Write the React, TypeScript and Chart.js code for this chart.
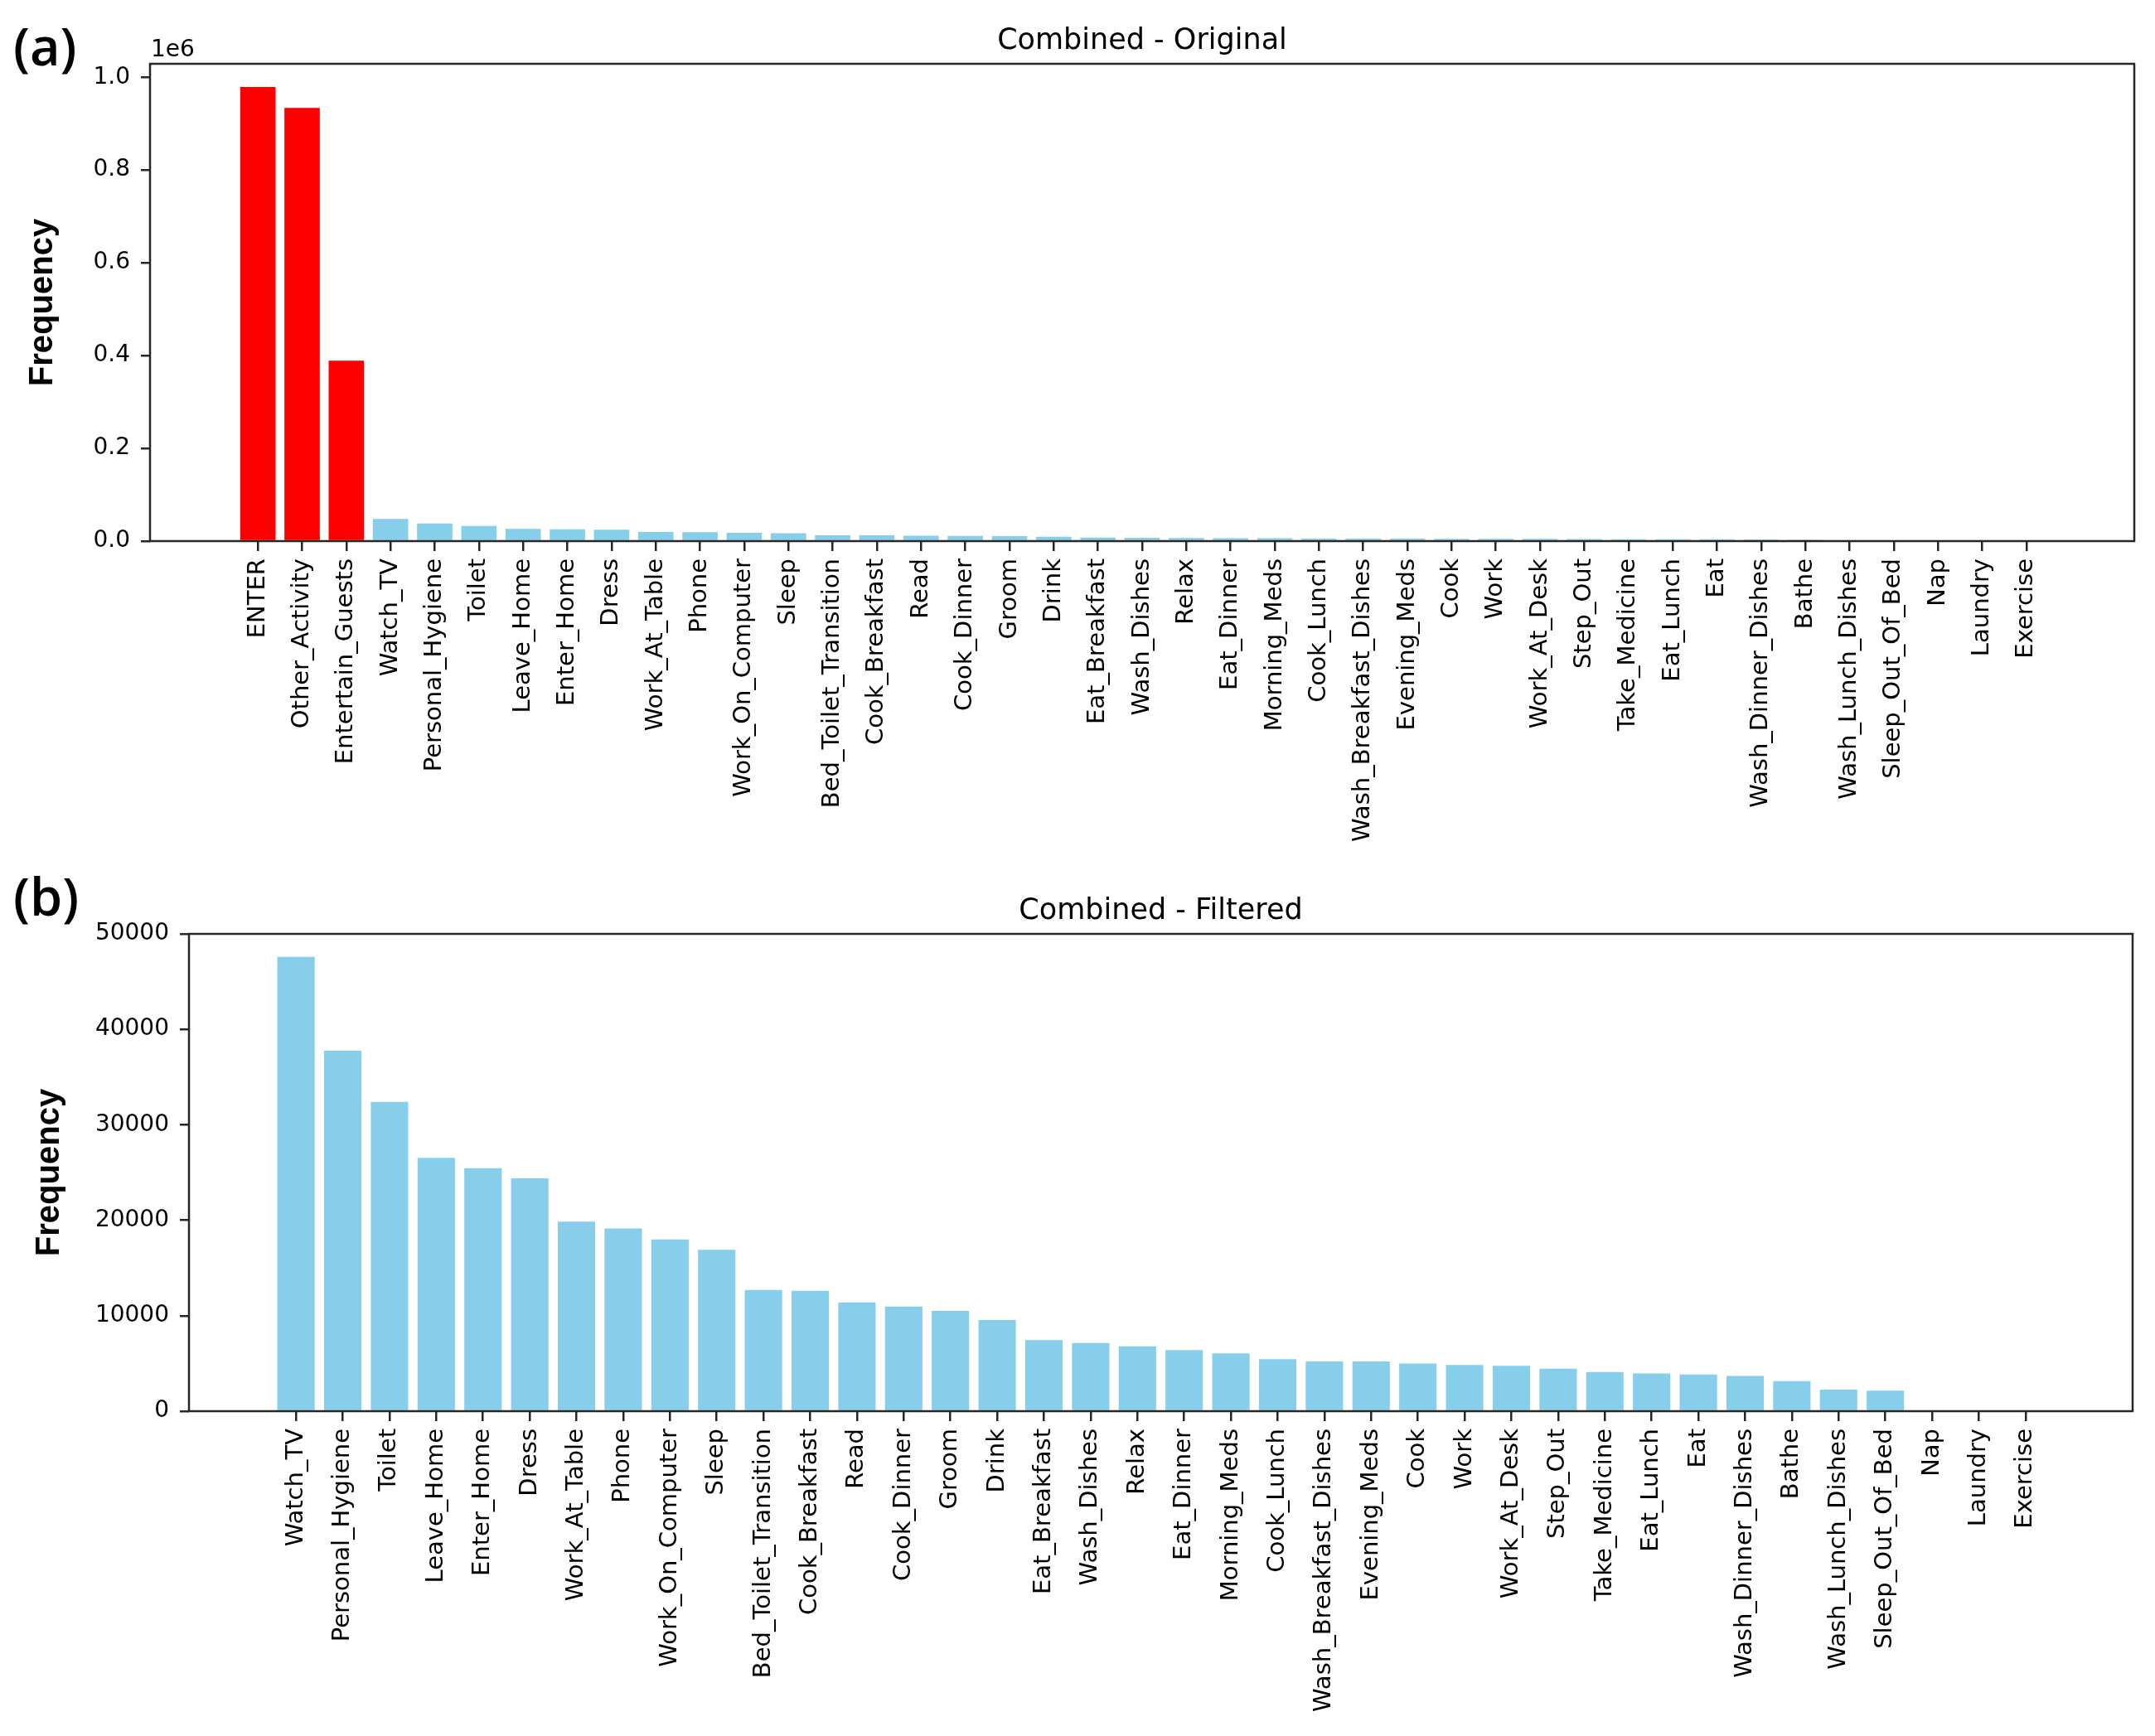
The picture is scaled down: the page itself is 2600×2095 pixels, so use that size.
import React, { useEffect, useRef } from "react";
import { Chart, registerables, ChartConfiguration, Plugin } from "chart.js";

Chart.register(...registerables);
Chart.defaults.font.family = "'DejaVu Sans', sans-serif";
Chart.defaults.color = "#000";

// the three activities removed by the filter
const outlierLabels = ["ENTER", "Other_Activity", "Entertain_Guests"];
const outlierValues = [979000, 934000, 389000];

const activityLabels = [
  "Watch_TV", "Personal_Hygiene", "Toilet", "Leave_Home", "Enter_Home",
  "Dress", "Work_At_Table", "Phone", "Work_On_Computer", "Sleep",
  "Bed_Toilet_Transition", "Cook_Breakfast", "Read", "Cook_Dinner", "Groom",
  "Drink", "Eat_Breakfast", "Wash_Dishes", "Relax", "Eat_Dinner",
  "Morning_Meds", "Cook_Lunch", "Wash_Breakfast_Dishes", "Evening_Meds",
  "Cook", "Work", "Work_At_Desk", "Step_Out", "Take_Medicine", "Eat_Lunch",
  "Eat", "Wash_Dinner_Dishes", "Bathe", "Wash_Lunch_Dishes",
  "Sleep_Out_Of_Bed", "Nap", "Laundry", "Exercise",
];
const activityValues = [
  47600, 37750, 32400, 26550, 25450,
  24400, 19850, 19150, 18000, 16900,
  12700, 12600, 11400, 10950, 10500,
  9550, 7450, 7150, 6800, 6400,
  6050, 5450, 5200, 5200,
  5000, 4850, 4750, 4450, 4100, 3950,
  3850, 3700, 3150, 2250,
  2150, 0, 0, 0,
];

const originalTicks = [0, 200000, 400000, 600000, 800000, 1000000];
const filteredTicks = [0, 10000, 20000, 30000, 40000, 50000];

const RED = "#ff0000";
const BLUE = "#87ceeb";
const FRAME = "#262626";
const WIDTH = 2600;

const originalLabels = outlierLabels.concat(activityLabels);
const originalValues = outlierValues.concat(activityValues);
const originalColors = originalLabels.map((_, i) =>
  i < outlierLabels.length ? RED : BLUE);

type Area = { left: number, right: number, top: number, bottom: number };

type PanelProps = {
  labels: string[],
  values: number[],
  colors: string[],
  title: string,
  letter: string,
  letterY: number,
  offsetText?: string,
  yMax: number,
  yTicks: number[],
  tickFormat: (v: number) => string,
  area: Area,
  top: number,
  height: number,
  yTitlePad: number,
};

function decorations(p: PanelProps): Plugin {
  return {
    id: "decorations",
    afterDraw(chart) {
      const { ctx, chartArea: a } = chart;
      ctx.save();
      ctx.strokeStyle = FRAME;
      ctx.lineWidth = 2.5;
      ctx.strokeRect(a.left, a.top, a.right - a.left, a.bottom - a.top);
      ctx.fillStyle = "#000";
      ctx.textBaseline = "alphabetic";
      ctx.textAlign = "center";
      ctx.font = "35px 'DejaVu Sans'";
      ctx.fillText(p.title, (a.left + a.right) / 2, a.top - 18);
      if (p.offsetText) {
        ctx.textAlign = "left";
        ctx.font = "28px 'DejaVu Sans'";
        ctx.fillText(p.offsetText, a.left + 1, a.top - 9);
      }
      ctx.textAlign = "left";
      ctx.font = "600 63px 'Open Sans'";
      ctx.fillText(p.letter, 16, p.letterY);
      ctx.restore();
    },
  };
}

const Panel = (p: PanelProps) => {
  const canvas = useRef<HTMLCanvasElement>(null);

  useEffect(() => {
    const n = p.labels.length;
    // matplotlib-like margins around bars of width 0.8
    const margin = (n - 1 + 0.8) * 0.05;
    const config: ChartConfiguration = {
      type: "bar",
      data: {
        datasets: [{
          data: p.values.map((v, i) => ({ x: i, y: v })),
          backgroundColor: p.colors,
          borderWidth: 0,
          barPercentage: 0.8,
          categoryPercentage: 1.0,
        }],
      },
      options: {
        responsive: false,
        animation: false,
        layout: {
          padding: {
            left: 0, right: WIDTH - p.area.right, top: p.area.top, bottom: 0,
          },
        },
        plugins: {
          legend: { display: false },
          tooltip: { enabled: false },
        },
        scales: {
          x: {
            type: "linear",
            bounds: "data",
            offset: false,
            min: -0.4 - margin,
            max: n - 1 + 0.4 + margin,
            afterBuildTicks: (scale: any) => {
              scale.ticks = p.labels.map((_, i) => ({ value: i }));
            },
            afterFit: (scale: any) => {
              scale.height = p.height - p.area.bottom;
            },
            grid: {
              offset: false,
              drawOnChartArea: false,
              drawTicks: true,
              tickLength: 12,
              color: FRAME,
              lineWidth: 2.5,
            },
            border: { display: false },
            ticks: {
              autoSkip: false,
              maxRotation: 90,
              minRotation: 90,
              padding: 9,
              font: { size: 29 },
              callback: (v: any) => p.labels[v] ?? "",
            },
          },
          y: {
            type: "linear",
            bounds: "data",
            min: 0,
            max: p.yMax,
            afterBuildTicks: (scale: any) => {
              scale.ticks = p.yTicks.map((v) => ({ value: v }));
            },
            afterFit: (scale: any) => {
              scale.width = p.area.left;
            },
            grid: {
              drawOnChartArea: false,
              drawTicks: true,
              tickLength: 11,
              color: FRAME,
              lineWidth: 2.5,
            },
            border: { display: false },
            ticks: {
              padding: 13,
              font: { size: 28 },
              callback: (v: any) => p.tickFormat(Number(v)),
            },
            title: {
              display: true,
              text: "Frequency",
              color: "#000",
              font: { family: "'Liberation Sans'", size: 40, weight: "bold" },
              padding: { top: p.yTitlePad, bottom: 0 },
            },
          },
        },
      },
      plugins: [decorations(p)],
    };
    const chart = new Chart(canvas.current!.getContext("2d")!, config);
    return () => chart.destroy();
  });

  return (
    <canvas ref={canvas} width={WIDTH} height={p.height}
      style={{
        position: "absolute", left: 0, top: p.top,
        width: WIDTH, height: p.height,
      }} />
  );
};

export default function App() {
  return (
    <div style={{
      position: "absolute", left: 0, top: 0, width: WIDTH, height: 2095,
      background: "#fff",
    }}>
      <Panel
        labels={originalLabels}
        values={originalValues}
        colors={originalColors}
        title="Combined - Original"
        letter="(a)"
        letterY={79}
        offsetText="1e6"
        yMax={1029000}
        yTicks={originalTicks}
        tickFormat={(v) => (v / 1e6).toFixed(1)}
        area={{ left: 181, right: 2575, top: 77, bottom: 653 }}
        top={0}
        height={1040}
        yTitlePad={28}
      />
      <Panel
        labels={activityLabels}
        values={activityValues}
        colors={activityLabels.map(() => BLUE)}
        title="Combined - Filtered"
        letter="(b)"
        letterY={65}
        yMax={50000}
        yTicks={filteredTicks}
        tickFormat={(v) => String(v)}
        area={{ left: 228, right: 2573, top: 87, bottom: 663 }}
        top={1040}
        height={1055}
        yTitlePad={36}
      />
    </div>
  );
}
